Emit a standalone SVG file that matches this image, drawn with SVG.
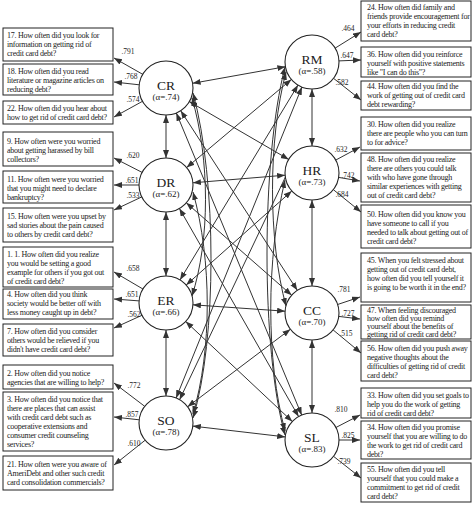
<svg xmlns="http://www.w3.org/2000/svg" width="474" height="505" viewBox="0 0 474 505">
<style>
.bx{fill:#fff;stroke:#222;stroke-width:1}
.t{font-family:"Liberation Serif","Times New Roman",serif;font-size:8px;letter-spacing:-0.25px;fill:#222}
.c{fill:#fff;stroke:#222;stroke-width:1.1}
.nm{font-family:"Liberation Serif","Times New Roman",serif;font-size:13.5px;fill:#222;text-anchor:middle}
.al{font-family:"Liberation Serif","Times New Roman",serif;font-size:9px;fill:#222;text-anchor:middle}
.lb{font-family:"Liberation Serif","Times New Roman",serif;font-size:7.5px;fill:#222;text-anchor:middle}
.ln{fill:none;stroke:#333;stroke-width:1}
.d{marker-start:url(#ah);marker-end:url(#ah)}
.s{marker-end:url(#ah)}
</style>
<defs>
<marker id="ah" markerUnits="userSpaceOnUse" markerWidth="9" markerHeight="7" refX="8" refY="3" orient="auto-start-reverse">
<path d="M0,0 L8,3 L0,6 z" fill="#333"/>
</marker>
</defs>
<g id="connectors">
<!-- loadings left -->
<line class="ln s" x1="142.7" y1="74.3" x2="114" y2="58"/>
<line class="ln s" x1="139.2" y1="84.8" x2="114" y2="82"/>
<line class="ln s" x1="142.5" y1="101.3" x2="114" y2="117"/>
<line class="ln s" x1="142.1" y1="172.4" x2="114" y2="158"/>
<line class="ln s" x1="139" y1="185" x2="114" y2="185"/>
<line class="ln s" x1="141.8" y1="196.9" x2="114" y2="210"/>
<line class="ln s" x1="142.9" y1="289" x2="114" y2="272"/>
<line class="ln s" x1="139.1" y1="300.9" x2="114" y2="299"/>
<line class="ln s" x1="141.9" y1="315.3" x2="114" y2="328"/>
<line class="ln s" x1="144.7" y1="406.3" x2="114" y2="383"/>
<line class="ln s" x1="139.2" y1="419.8" x2="114" y2="417"/>
<line class="ln s" x1="145.2" y1="440.2" x2="114" y2="465"/>
<!-- loadings right -->
<line class="ln s" x1="335.2" y1="48.1" x2="361" y2="32"/>
<line class="ln s" x1="339" y1="60.9" x2="361" y2="60"/>
<line class="ln s" x1="333.5" y1="78.3" x2="361" y2="100"/>
<line class="ln s" x1="335.7" y1="160.1" x2="360" y2="147"/>
<line class="ln s" x1="338.6" y1="177.4" x2="360" y2="181"/>
<line class="ln s" x1="333.3" y1="189.6" x2="361" y2="212"/>
<line class="ln s" x1="337.6" y1="304.5" x2="360" y2="297"/>
<line class="ln s" x1="338.8" y1="316.4" x2="360" y2="319"/>
<line class="ln s" x1="333.1" y1="329.9" x2="361" y2="353"/>
<line class="ln s" x1="335.9" y1="427.5" x2="360" y2="415"/>
<line class="ln s" x1="339" y1="440" x2="360" y2="440"/>
<line class="ln s" x1="333.5" y1="456.3" x2="361" y2="478"/>
<!-- vertical covariances -->
<line class="ln d" x1="166" y1="115" x2="166" y2="158"/>
<line class="ln d" x1="166" y1="212" x2="166" y2="276"/>
<line class="ln d" x1="166" y1="330" x2="166" y2="396"/>
<line class="ln d" x1="312" y1="89" x2="312" y2="146"/>
<line class="ln d" x1="312" y1="200" x2="312" y2="286"/>
<line class="ln d" x1="312" y1="340" x2="312" y2="413"/>
<!-- cross covariances -->
<line class="ln d" x1="192.6" y1="83.3" x2="285.4" y2="66.7"/>
<line class="ln d" x1="189.3" y1="101.6" x2="288.7" y2="159.4"/>
<line class="ln d" x1="180.7" y1="110.7" x2="297.3" y2="290.3"/>
<line class="ln d" x1="176.3" y1="112.9" x2="301.7" y2="415.1"/>
<line class="ln d" x1="186.6" y1="167.6" x2="291.4" y2="79.4"/>
<line class="ln d" x1="192.9" y1="182.8" x2="285.1" y2="175.2"/>
<line class="ln d" x1="186.3" y1="202.8" x2="291.7" y2="295.2"/>
<line class="ln d" x1="179.4" y1="208.4" x2="298.6" y2="416.6"/>
<line class="ln d" x1="180" y1="279.9" x2="298" y2="85.1"/>
<line class="ln d" x1="186.2" y1="285" x2="291.8" y2="191"/>
<line class="ln d" x1="192.9" y1="304.8" x2="285.1" y2="311.2"/>
<line class="ln d" x1="185.7" y1="321.5" x2="292.3" y2="421.5"/>
<line class="ln d" x1="176.1" y1="398" x2="301.9" y2="87"/>
<line class="ln d" x1="179.6" y1="399.7" x2="298.4" y2="149.7"/>
<line class="ln d" x1="187.6" y1="406.8" x2="290.4" y2="329.2"/>
<line class="ln d" x1="192.8" y1="426.1" x2="285.2" y2="436.9"/>
<!-- curved covariances -->
<path class="ln d" d="M193,93 C217,180 217,340 193,418"/>
<path class="ln d" d="M193,192 C212,260 212,350 193,414"/>
<path class="ln d" d="M192,98 C210,160 210,240 192,296"/>
<path class="ln d" d="M285,67 C261,160 261,350 285,435"/>
<path class="ln d" d="M285,180 C266,260 266,360 285,431"/>
<path class="ln d" d="M286,72 C268,140 268,240 286,306"/>
<!-- loading labels -->
<text class="lb" x="128" y="54">.791</text>
<text class="lb" x="131" y="79">.768</text>
<text class="lb" x="133" y="102">.574</text>
<text class="lb" x="133" y="158">.620</text>
<text class="lb" x="132" y="183">.651</text>
<text class="lb" x="133" y="198">.533</text>
<text class="lb" x="133" y="271">.658</text>
<text class="lb" x="132" y="297">.651</text>
<text class="lb" x="134" y="317">.562</text>
<text class="lb" x="134" y="388">.772</text>
<text class="lb" x="132" y="417">.857</text>
<text class="lb" x="134" y="446">.610</text>
<text class="lb" x="348" y="31">.464</text>
<text class="lb" x="347" y="58">.647</text>
<text class="lb" x="342" y="85">.582</text>
<text class="lb" x="341" y="152">.632</text>
<text class="lb" x="348" y="178">.742</text>
<text class="lb" x="342" y="197">.684</text>
<text class="lb" x="344" y="292">.781</text>
<text class="lb" x="348" y="316">.727</text>
<text class="lb" x="346" y="336">.515</text>
<text class="lb" x="341" y="412">.810</text>
<text class="lb" x="348" y="438">.825</text>
<text class="lb" x="344" y="464">.739</text>
</g>
<g id="CR"><circle class="c" cx="166" cy="88" r="27"/><text class="nm" x="166" y="90">CR</text><text class="al" x="166" y="100">(α=.74)</text></g>
<g id="DR"><circle class="c" cx="166" cy="185" r="27"/><text class="nm" x="166" y="187">DR</text><text class="al" x="166" y="197">(α=.62)</text></g>
<g id="ER"><circle class="c" cx="166" cy="303" r="27"/><text class="nm" x="166" y="305">ER</text><text class="al" x="166" y="315">(α=.66)</text></g>
<g id="SO"><circle class="c" cx="166" cy="423" r="27"/><text class="nm" x="166" y="425">SO</text><text class="al" x="166" y="435">(α=.78)</text></g>
<g id="RM"><circle class="c" cx="312" cy="62" r="27"/><text class="nm" x="312" y="64">RM</text><text class="al" x="312" y="74">(α=.58)</text></g>
<g id="HR"><circle class="c" cx="312" cy="173" r="27"/><text class="nm" x="312" y="175">HR</text><text class="al" x="312" y="185">(α=.73)</text></g>
<g id="CC"><circle class="c" cx="312" cy="313" r="27"/><text class="nm" x="312" y="315">CC</text><text class="al" x="312" y="325">(α=.70)</text></g>
<g id="SL"><circle class="c" cx="312" cy="440" r="27"/><text class="nm" x="312" y="442">SL</text><text class="al" x="312" y="452">(α=.83)</text></g>
<g id="q17"><rect class="bx" x="3" y="28" width="110" height="33"/><text class="t" x="7" y="38">17. How often did you look for</text><text class="t" x="7" y="47">information on getting rid of</text><text class="t" x="7" y="56">credit card debt?</text></g>
<g id="q18"><rect class="bx" x="3" y="64" width="110" height="31"/><text class="t" x="7" y="74">18. How often did you read</text><text class="t" x="7" y="83">literature or magazine articles on</text><text class="t" x="7" y="92">reducing debt?</text></g>
<g id="q22"><rect class="bx" x="3" y="101" width="110" height="23"/><text class="t" x="7" y="111">22. How often did you hear about</text><text class="t" x="7" y="120">how to get rid of credit card debt?</text></g>
<g id="q9"><rect class="bx" x="3" y="132" width="110" height="34"/><text class="t" x="7" y="144">9. How often were you worried</text><text class="t" x="7" y="153">about getting harassed by bill</text><text class="t" x="7" y="162">collectors?</text></g>
<g id="q11"><rect class="bx" x="3" y="171" width="110" height="32"/><text class="t" x="7" y="182">11. How often were you worried</text><text class="t" x="7" y="191">that you might need to declare</text><text class="t" x="7" y="200">bankruptcy?</text></g>
<g id="q15"><rect class="bx" x="3" y="208" width="110" height="34"/><text class="t" x="7" y="219">15. How often were you upset by</text><text class="t" x="7" y="228">sad stories about the pain caused</text><text class="t" x="7" y="237">to others by credit card debt?</text></g>
<g id="q1"><rect class="bx" x="3" y="247" width="110" height="40"/><text class="t" x="7" y="257">1. 1. How often did you realize</text><text class="t" x="7" y="266">you would be setting a good</text><text class="t" x="7" y="275">example for others if you got out</text><text class="t" x="7" y="284">of credit card debt?</text></g>
<g id="q4"><rect class="bx" x="3" y="289" width="110" height="30"/><text class="t" x="7" y="297">4. How often did you think</text><text class="t" x="7" y="306">society would be better off with</text><text class="t" x="7" y="315">less money caught up in debt?</text></g>
<g id="q7"><rect class="bx" x="3" y="324" width="110" height="32"/><text class="t" x="7" y="334">7. How often did you consider</text><text class="t" x="7" y="343">others would be relieved if you</text><text class="t" x="7" y="352">didn't have credit card debt?</text></g>
<g id="q2"><rect class="bx" x="3" y="365" width="110" height="24"/><text class="t" x="7" y="376">2. How often did you notice</text><text class="t" x="7" y="385">agencies that are willing to help?</text></g>
<g id="q3"><rect class="bx" x="3" y="392" width="110" height="59"/><text class="t" x="7" y="402">3. How often did you notice that</text><text class="t" x="7" y="411">there are places that can assist</text><text class="t" x="7" y="420">with credit card debt such as</text><text class="t" x="7" y="429">cooperative extensions and</text><text class="t" x="7" y="438">consumer credit counseling</text><text class="t" x="7" y="447">services?</text></g>
<g id="q21"><rect class="bx" x="3" y="456" width="110" height="34"/><text class="t" x="7" y="467">21. How often were you aware of</text><text class="t" x="7" y="476">AmeriDebt and other such credit</text><text class="t" x="7" y="485">card consolidation commercials?</text></g>
<g id="q24"><rect class="bx" x="361" y="1" width="110" height="40"/><text class="t" x="367" y="10">24. How often did family and</text><text class="t" x="367" y="19">friends provide encouragement for</text><text class="t" x="367" y="28">your efforts in reducing credit</text><text class="t" x="367" y="37">card debt?</text></g>
<g id="q36"><rect class="bx" x="361" y="47" width="110" height="30"/><text class="t" x="367" y="57">36. How often did you reinforce</text><text class="t" x="367" y="66">yourself with positive statements</text><text class="t" x="367" y="75">like "I can do this"?</text></g>
<g id="q44"><rect class="bx" x="361" y="81" width="110" height="29"/><text class="t" x="367" y="89">44. How often did you find the</text><text class="t" x="367" y="98">work of getting out of credit card</text><text class="t" x="367" y="107">debt rewarding?</text></g>
<g id="q30"><rect class="bx" x="361" y="117" width="110" height="33"/><text class="t" x="367" y="127">30. How often did you realize</text><text class="t" x="367" y="136">there are people who you can turn</text><text class="t" x="367" y="145">to for advice?</text></g>
<g id="q48"><rect class="bx" x="361" y="153" width="110" height="49"/><text class="t" x="367" y="162">48. How often did you realize</text><text class="t" x="367" y="171">there are others you could talk</text><text class="t" x="367" y="180">with who have gone through</text><text class="t" x="367" y="189">similar experiences with getting</text><text class="t" x="367" y="198">out of credit card debt?</text></g>
<g id="q50"><rect class="bx" x="361" y="205" width="110" height="43"/><text class="t" x="367" y="217">50. How often did you know you</text><text class="t" x="367" y="226">have someone to call if you</text><text class="t" x="367" y="235">needed to talk about getting out of</text><text class="t" x="367" y="244">credit card debt?</text></g>
<g id="q45"><rect class="bx" x="361" y="253" width="110" height="49"/><text class="t" x="367" y="263">45. When you felt stressed about</text><text class="t" x="367" y="272">getting out of credit card debt,</text><text class="t" x="367" y="281">how often did you tell yourself it</text><text class="t" x="367" y="290">is going to be worth it in the end?</text></g>
<g id="q47"><rect class="bx" x="361" y="305" width="110" height="34"/><text class="t" x="367" y="313">47. When feeling discouraged</text><text class="t" x="367" y="321">how often did you remind</text><text class="t" x="367" y="329">yourself about the benefits of</text><text class="t" x="367" y="337">getting rid of credit card debt?</text></g>
<g id="q56"><rect class="bx" x="361" y="341" width="110" height="40"/><text class="t" x="367" y="351">56. How often did you push away</text><text class="t" x="367" y="360">negative thoughts about the</text><text class="t" x="367" y="369">difficulties of getting rid of credit</text><text class="t" x="367" y="378">card debt?</text></g>
<g id="q33"><rect class="bx" x="361" y="388" width="110" height="30"/><text class="t" x="367" y="398">33. How often did you set goals to</text><text class="t" x="367" y="407">help you do the work of getting</text><text class="t" x="367" y="416">rid of credit card debt?</text></g>
<g id="q34"><rect class="bx" x="361" y="421" width="110" height="38"/><text class="t" x="367" y="430">34. How often did you promise</text><text class="t" x="367" y="439">yourself that you are willing to do</text><text class="t" x="367" y="448">the work to get rid of credit card</text><text class="t" x="367" y="457">debt?</text></g>
<g id="q55"><rect class="bx" x="361" y="463" width="110" height="39"/><text class="t" x="367" y="472">55. How often did you tell</text><text class="t" x="367" y="481">yourself that you could make a</text><text class="t" x="367" y="490">commitment to get rid of credit</text><text class="t" x="367" y="499">card debt?</text></g>
</svg>
